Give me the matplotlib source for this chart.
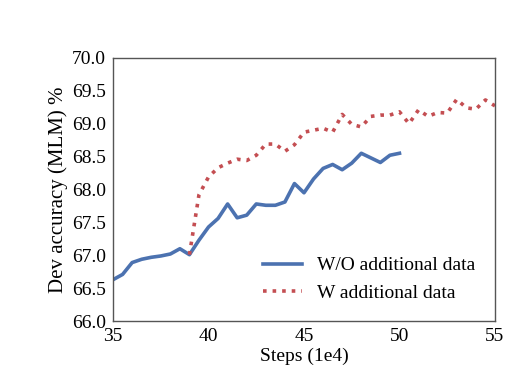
import numpy as np
import matplotlib
matplotlib.use("Agg")
import matplotlib.pyplot as plt

plt.rcParams['font.family'] = ['Liberation Serif', 'DejaVu Serif']
plt.rcParams['font.size'] = 14

# W/O additional data (steps 35..50, every 0.5)
steps_wo = np.arange(35, 50.01, 0.5)
acc_wo = [66.63, 66.71, 66.89, 66.94, 66.97, 66.99, 67.02, 67.10, 67.01, 67.23,
          67.43, 67.56, 67.78, 67.57, 67.61, 67.78, 67.76, 67.76, 67.81, 68.09,
          67.95, 68.16, 68.32, 68.38, 68.30, 68.40, 68.55, 68.48, 68.41, 68.52,
          68.55]

# W additional data (steps 39..55, every 0.5)
steps_w = np.arange(39, 55.01, 0.5)
acc_w = [67.01, 67.92, 68.19, 68.33, 68.40, 68.46, 68.44, 68.52, 68.69, 68.69,
         68.58, 68.68, 68.87, 68.90, 68.93, 68.87, 69.14, 68.99, 68.95, 69.11,
         69.13, 69.13, 69.18, 69.00, 69.21, 69.11, 69.17, 69.16, 69.37, 69.24,
         69.22, 69.36, 69.27]

fig = plt.figure(figsize=(5.21, 3.73), dpi=100)
ax = fig.add_axes([0.217, 0.139, 0.733, 0.706])

ax.plot(steps_wo, acc_wo, color='#4C72B0', lw=2.6, label='W/O additional data')
ax.plot(steps_w, acc_w, color='#C44E52', lw=2.6, ls=':', label='W additional data')

ax.set_xlim(35, 55)
ax.set_ylim(66.0, 70.0)
ax.set_xticks([35, 40, 45, 50, 55])
ax.set_yticks(np.arange(66.0, 70.01, 0.5))
ax.set_yticklabels(['%.1f' % v for v in np.arange(66.0, 70.01, 0.5)])
ax.tick_params(length=0, pad=5, labelsize=14)
for s in ax.spines.values():
    s.set_color('#555555')
    s.set_linewidth(1.0)

ax.set_xlabel('Steps (1e4)', fontsize=14, labelpad=2)
ax.set_ylabel('Dev accuracy (MLM) %', fontsize=15, labelpad=3)
ax.legend(loc='lower right', frameon=False, fontsize=14, handlelength=2.0,
          borderaxespad=0.6)

fig.savefig('out.png', dpi=100)
